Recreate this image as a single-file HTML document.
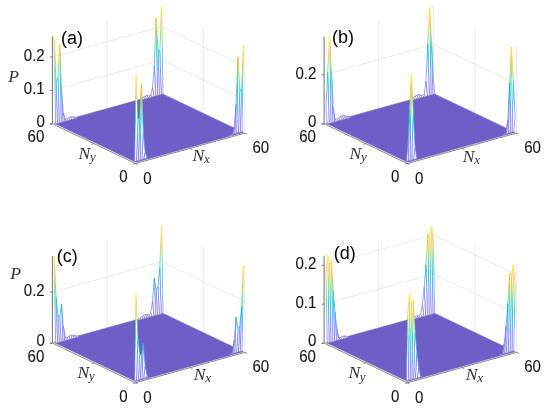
<!DOCTYPE html>
<html><head><meta charset="utf-8"><title>Figure</title>
<style>html,body{margin:0;padding:0;background:#fff}svg{display:block}</style></head>
<body>
<svg width="550" height="411" viewBox="0 0 550 411">
<defs><linearGradient id="pg" gradientUnits="userSpaceOnUse" x1="0" y1="0" x2="0" y2="-88.5">
<stop offset="0.000" stop-color="#8172c7"/>
<stop offset="0.048" stop-color="#7d71db"/>
<stop offset="0.095" stop-color="#7773ec"/>
<stop offset="0.143" stop-color="#7079f7"/>
<stop offset="0.190" stop-color="#667ffd"/>
<stop offset="0.238" stop-color="#5489fe"/>
<stop offset="0.286" stop-color="#4393f8"/>
<stop offset="0.333" stop-color="#369eec"/>
<stop offset="0.381" stop-color="#28a8e4"/>
<stop offset="0.429" stop-color="#14b2d6"/>
<stop offset="0.476" stop-color="#02bac3"/>
<stop offset="0.524" stop-color="#24c1ae"/>
<stop offset="0.571" stop-color="#37c897"/>
<stop offset="0.619" stop-color="#57cc7a"/>
<stop offset="0.667" stop-color="#81cc59"/>
<stop offset="0.714" stop-color="#abc739"/>
<stop offset="0.762" stop-color="#d1bf27"/>
<stop offset="0.810" stop-color="#f0ba36"/>
<stop offset="0.857" stop-color="#fec338"/>
<stop offset="0.905" stop-color="#fad62d"/>
<stop offset="0.952" stop-color="#f5e924"/>
<stop offset="1.000" stop-color="#f9fb15"/>
</linearGradient></defs>
<g transform="translate(0,0)">
<path d="M52.4 123.8L161.6 93.4L244.8 133.1M161.6 93.4V6.2M244.8 133.1V45.9M107 108.6V21.4M203.2 113.2V26M52.4 90.4L161.6 60L244.8 99.7M52.4 57L161.6 26.6L244.8 66.3" fill="none" stroke="#dcdcdc" stroke-width="0.6"/>
<path d="M136 162.3L243.4 132.4L161.6 93.4L54.2 123.3Z" fill="#9086dc"/>
<path d="M136.03 162.33L54.22 123.29M136.03 162.33L243.41 132.44M137.85 161.83L56.04 122.79M134.65 161.67L242.03 131.78M139.67 161.32L57.86 122.28M133.26 161.01L240.64 131.11M141.49 160.81L59.68 121.77M131.87 160.35L239.25 130.45M143.31 160.31L61.5 121.27M130.49 159.69L237.87 129.79M145.13 159.8L63.32 120.76M129.1 159.02L236.48 129.13M146.95 159.29L65.14 120.25M127.71 158.36L235.09 128.47M148.77 158.78L66.96 119.75M126.33 157.7L233.71 127.81M150.59 158.28L68.78 119.24M124.94 157.04L232.32 127.14M152.41 157.77L70.6 118.73M123.55 156.38L230.93 126.48M154.23 157.27L72.42 118.23M122.17 155.72L229.55 125.82M156.05 156.76L74.24 117.72M120.78 155.05L228.16 125.16M157.87 156.25L76.06 117.21M119.39 154.39L226.77 124.5M159.69 155.75L77.88 116.71M118.01 153.73L225.39 123.84M161.51 155.24L79.7 116.2M116.62 153.07L224 123.17M163.33 154.73L81.52 115.69M115.23 152.41L222.61 122.51M165.15 154.22L83.34 115.19M113.85 151.75L221.23 121.85M166.97 153.72L85.16 114.68M112.46 151.08L219.84 121.19M168.79 153.21L86.98 114.17M111.07 150.42L218.45 120.53M170.61 152.71L88.8 113.67M109.69 149.76L217.07 119.87M172.43 152.2L90.62 113.16M108.3 149.1L215.68 119.2M174.25 151.69L92.44 112.65M106.91 148.44L214.29 118.54M176.07 151.19L94.26 112.15M105.53 147.78L212.91 117.88M177.89 150.68L96.08 111.64M104.14 147.11L211.52 117.22M179.71 150.17L97.9 111.13M102.75 146.45L210.13 116.56M181.53 149.66L99.72 110.63M101.37 145.79L208.75 115.9M183.35 149.16L101.54 110.12M99.98 145.13L207.36 115.23M185.17 148.65L103.36 109.61M98.59 144.47L205.97 114.57M186.99 148.15L105.18 109.11M97.21 143.81L204.59 113.91M188.81 147.64L107 108.6M95.82 143.14L203.2 113.25M190.63 147.13L108.82 108.09M94.43 142.48L201.81 112.59M192.45 146.62L110.64 107.59M93.05 141.82L200.43 111.93M194.27 146.12L112.46 107.08M91.66 141.16L199.04 111.26M196.09 145.61L114.28 106.57M90.27 140.5L197.65 110.6M197.91 145.1L116.1 106.07M88.89 139.84L196.27 109.94M199.73 144.6L117.92 105.56M87.5 139.17L194.88 109.28M201.55 144.09L119.74 105.05M86.11 138.51L193.49 108.62M203.37 143.59L121.56 104.55M84.73 137.85L192.11 107.96M205.19 143.08L123.38 104.04M83.34 137.19L190.72 107.29M207.01 142.57L125.2 103.53M81.95 136.53L189.33 106.63M208.83 142.06L127.02 103.03M80.57 135.87L187.95 105.97M210.65 141.56L128.84 102.52M79.18 135.2L186.56 105.31M212.47 141.05L130.66 102.01M77.79 134.54L185.17 104.65M214.29 140.54L132.48 101.51M76.41 133.88L183.79 103.99M216.11 140.04L134.3 101M75.02 133.22L182.4 103.32M217.93 139.53L136.12 100.49M73.63 132.56L181.01 102.66M219.75 139.03L137.94 99.99M72.25 131.9L179.63 102M221.57 138.52L139.76 99.48M70.86 131.23L178.24 101.34M223.39 138.01L141.58 98.97M69.47 130.57L176.85 100.68M225.21 137.5L143.4 98.47M68.09 129.91L175.47 100.02M227.03 137L145.22 97.96M66.7 129.25L174.08 99.35M228.85 136.49L147.04 97.45M65.31 128.59L172.69 98.69M230.67 135.99L148.86 96.95M63.93 127.93L171.31 98.03M232.49 135.48L150.68 96.44M62.54 127.26L169.92 97.37M234.31 134.97L152.5 95.93M61.15 126.6L168.53 96.71M236.13 134.47L154.32 95.43M59.77 125.94L167.15 96.05M237.95 133.96L156.14 94.92M58.38 125.28L165.76 95.38M239.77 133.45L157.96 94.41M56.99 124.62L164.37 94.72M241.59 132.94L159.78 93.91M55.61 123.96L162.99 94.06M243.41 132.44L161.6 93.4M54.22 123.29L161.6 93.4" fill="none" stroke="#3e26a8" stroke-width="0.5" stroke-opacity="0.55"/>
<path d="M52.4 123.8V36.6" fill="none" stroke="#4c4c4c" stroke-width="0.8"/>
<path d="M52.4 123.8L135.6 163.5L244.8 133.1M52.4 123.8h-2.6M52.4 90.4h-2.6M52.4 57h-2.6M135.6 163.5l2.3 1.1M135.6 163.5l-2.5 0.7M190.2 148.3l2.3 1.1M94 143.7l-2.5 0.7M244.8 133.1l2.3 1.1M52.4 123.8l-2.5 0.7" fill="none" stroke="#666" stroke-width="0.75"/>
<g transform="translate(0,93.4)" fill="#fff" stroke="url(#pg)" stroke-width="0.68" stroke-linejoin="round">
<path d="M161.2 1.2L163 0.7L161.6 -86.8L159.8 -41.5Z"/><path d="M159.3 1.7L161.2 1.2L159.8 -41.5L158 -43Z"/><path d="M157.5 2.2L159.3 1.7L158 -43L156.1 -75.5Z"/><path d="M155.7 2.7L157.5 2.2L156.1 -75.5L154.3 -28Z"/><path d="M153.9 3.2L155.7 2.7L154.3 -28L152.5 -5.5Z"/><path d="M152.1 3.7L153.9 3.2L152.5 -5.5L150.7 1.5Z"/><path d="M150.2 4.2L152.1 3.7L150.7 1.5L148.9 2.5Z"/><path d="M148.4 4.7L150.2 4.2L148.9 2.5L147 2.1Z"/><path d="M146.6 5.2L148.4 4.7L147 2.1L145.2 2.6Z"/><path d="M144.8 5.7L146.6 5.2L145.2 2.6L143.4 3.6Z"/><path d="M143 6.2L144.8 5.7L143.4 3.6L141.6 4.8Z"/><path d="M141.1 6.7L143 6.2L141.6 4.8L139.8 6.1Z"/>
</g>
<g transform="translate(0,123.3)" fill="#fff" stroke="url(#pg)" stroke-width="0.68" stroke-linejoin="round">
<path d="M75.6 -4.9L77.4 -5.4L76.1 -6.1L74.2 -6.4Z"/><path d="M73.8 -4.4L75.6 -4.9L74.2 -6.4L72.4 -6.6Z"/><path d="M72 -3.9L73.8 -4.4L72.4 -6.6L70.6 -6.6Z"/><path d="M70.2 -3.4L72 -3.9L70.6 -6.6L68.8 -6.1Z"/><path d="M68.3 -2.9L70.2 -3.4L68.8 -6.1L67 -4.5Z"/><path d="M66.5 -2.4L68.3 -2.9L67 -4.5L65.1 -4.5Z"/><path d="M64.7 -1.9L66.5 -2.4L65.1 -4.5L63.3 -10.5Z"/><path d="M62.9 -1.4L64.7 -1.9L63.3 -10.5L61.5 -32Z"/><path d="M61.1 -0.9L62.9 -1.4L61.5 -32L59.7 -78.5Z"/><path d="M59.2 -0.4L61.1 -0.9L59.7 -78.5L57.9 -45Z"/><path d="M57.4 0.2L59.2 -0.4L57.9 -45L56 -42.5Z"/><path d="M55.6 0.7L57.4 0.2L56 -42.5L54.2 -86.8Z"/>
</g>
<g transform="translate(0,132.4)" fill="#fff" stroke="url(#pg)" stroke-width="0.68" stroke-linejoin="round">
<path d="M241.6 -41.5L243.4 -86.8L242 -0.7L240.2 -0.2Z"/><path d="M239.8 -43L241.6 -41.5L240.2 -0.2L238.4 0.4Z"/><path d="M238 -75.5L239.8 -43L238.4 0.4L236.6 0.9Z"/><path d="M236.1 -28L238 -75.5L236.6 0.9L234.7 1.4Z"/><path d="M234.3 -5.5L236.1 -28L234.7 1.4L232.9 1.9Z"/><path d="M232.5 1.5L234.3 -5.5L232.9 1.9L231.1 2.4Z"/><path d="M230.7 3.5L232.5 1.5L231.1 2.4L229.3 2.9Z"/>
</g>
<g transform="translate(0,162.3)" fill="#fff" stroke="url(#pg)" stroke-width="0.68" stroke-linejoin="round">
<path d="M147 -4.5L148.8 -3.5L147.4 -4.2L145.6 -3.7Z"/><path d="M145.1 -10.5L147 -4.5L145.6 -3.7L143.7 -3.2Z"/><path d="M143.3 -32L145.1 -10.5L143.7 -3.2L141.9 -2.7Z"/><path d="M141.5 -78.5L143.3 -32L141.9 -2.7L140.1 -2.2Z"/><path d="M139.7 -45L141.5 -78.5L140.1 -2.2L138.3 -1.7Z"/><path d="M137.9 -42.5L139.7 -45L138.3 -1.7L136.5 -1.2Z"/><path d="M136 -86.8L137.9 -42.5L136.5 -1.2L134.6 -0.7Z"/>
</g>
<g font-family="Liberation Sans, Arial, sans-serif" font-size="17.2" fill="#151515" stroke="#151515" stroke-width="0.1">
<text transform="translate(44.8 126.8) scale(0.875 1)" text-anchor="end">0</text>
<text transform="translate(44.7 94.4) scale(0.875 1)" text-anchor="end">0.1</text>
<text transform="translate(44.7 61) scale(0.875 1)" text-anchor="end">0.2</text>
<text transform="translate(44.3 142.4) scale(0.875 1)" text-anchor="end">60</text>
<text transform="translate(123.4 182.4) scale(0.875 1)" text-anchor="middle">0</text>
<text transform="translate(147.4 183.8) scale(0.875 1)" text-anchor="middle">0</text>
<text transform="translate(260.8 152.7) scale(0.875 1)" text-anchor="middle">60</text>
<text x="72.1" y="43.8" text-anchor="middle" font-size="18" fill="#000" stroke="none">(a)</text>
</g>
<g font-family="Liberation Serif, Times New Roman, serif" font-style="italic" font-size="17.6" fill="#333">
<text x="78.5" y="158.6">N<tspan dy="2.3" dx="-0.3" font-size="13">y</tspan></text>
<text x="192.6" y="160.9">N<tspan dy="2.3" dx="-0.3" font-size="13">x</tspan></text>
<text x="8.2" y="81.9">P</text>
</g>
</g>
<g transform="translate(271.7,0)">
<path d="M52.4 123.8L161.6 93.4L244.8 133.1M161.6 93.4V6.2M244.8 133.1V45.9M107 108.6V21.4M203.2 113.2V26M52.4 74.8L161.6 44.4L244.8 84.1" fill="none" stroke="#dcdcdc" stroke-width="0.6"/>
<path d="M136 162.3L243.4 132.4L161.6 93.4L54.2 123.3Z" fill="#9086dc"/>
<path d="M136.03 162.33L54.22 123.29M136.03 162.33L243.41 132.44M137.85 161.83L56.04 122.79M134.65 161.67L242.03 131.78M139.67 161.32L57.86 122.28M133.26 161.01L240.64 131.11M141.49 160.81L59.68 121.77M131.87 160.35L239.25 130.45M143.31 160.31L61.5 121.27M130.49 159.69L237.87 129.79M145.13 159.8L63.32 120.76M129.1 159.02L236.48 129.13M146.95 159.29L65.14 120.25M127.71 158.36L235.09 128.47M148.77 158.78L66.96 119.75M126.33 157.7L233.71 127.81M150.59 158.28L68.78 119.24M124.94 157.04L232.32 127.14M152.41 157.77L70.6 118.73M123.55 156.38L230.93 126.48M154.23 157.27L72.42 118.23M122.17 155.72L229.55 125.82M156.05 156.76L74.24 117.72M120.78 155.05L228.16 125.16M157.87 156.25L76.06 117.21M119.39 154.39L226.77 124.5M159.69 155.75L77.88 116.71M118.01 153.73L225.39 123.84M161.51 155.24L79.7 116.2M116.62 153.07L224 123.17M163.33 154.73L81.52 115.69M115.23 152.41L222.61 122.51M165.15 154.22L83.34 115.19M113.85 151.75L221.23 121.85M166.97 153.72L85.16 114.68M112.46 151.08L219.84 121.19M168.79 153.21L86.98 114.17M111.07 150.42L218.45 120.53M170.61 152.71L88.8 113.67M109.69 149.76L217.07 119.87M172.43 152.2L90.62 113.16M108.3 149.1L215.68 119.2M174.25 151.69L92.44 112.65M106.91 148.44L214.29 118.54M176.07 151.19L94.26 112.15M105.53 147.78L212.91 117.88M177.89 150.68L96.08 111.64M104.14 147.11L211.52 117.22M179.71 150.17L97.9 111.13M102.75 146.45L210.13 116.56M181.53 149.66L99.72 110.63M101.37 145.79L208.75 115.9M183.35 149.16L101.54 110.12M99.98 145.13L207.36 115.23M185.17 148.65L103.36 109.61M98.59 144.47L205.97 114.57M186.99 148.15L105.18 109.11M97.21 143.81L204.59 113.91M188.81 147.64L107 108.6M95.82 143.14L203.2 113.25M190.63 147.13L108.82 108.09M94.43 142.48L201.81 112.59M192.45 146.62L110.64 107.59M93.05 141.82L200.43 111.93M194.27 146.12L112.46 107.08M91.66 141.16L199.04 111.26M196.09 145.61L114.28 106.57M90.27 140.5L197.65 110.6M197.91 145.1L116.1 106.07M88.89 139.84L196.27 109.94M199.73 144.6L117.92 105.56M87.5 139.17L194.88 109.28M201.55 144.09L119.74 105.05M86.11 138.51L193.49 108.62M203.37 143.59L121.56 104.55M84.73 137.85L192.11 107.96M205.19 143.08L123.38 104.04M83.34 137.19L190.72 107.29M207.01 142.57L125.2 103.53M81.95 136.53L189.33 106.63M208.83 142.06L127.02 103.03M80.57 135.87L187.95 105.97M210.65 141.56L128.84 102.52M79.18 135.2L186.56 105.31M212.47 141.05L130.66 102.01M77.79 134.54L185.17 104.65M214.29 140.54L132.48 101.51M76.41 133.88L183.79 103.99M216.11 140.04L134.3 101M75.02 133.22L182.4 103.32M217.93 139.53L136.12 100.49M73.63 132.56L181.01 102.66M219.75 139.03L137.94 99.99M72.25 131.9L179.63 102M221.57 138.52L139.76 99.48M70.86 131.23L178.24 101.34M223.39 138.01L141.58 98.97M69.47 130.57L176.85 100.68M225.21 137.5L143.4 98.47M68.09 129.91L175.47 100.02M227.03 137L145.22 97.96M66.7 129.25L174.08 99.35M228.85 136.49L147.04 97.45M65.31 128.59L172.69 98.69M230.67 135.99L148.86 96.95M63.93 127.93L171.31 98.03M232.49 135.48L150.68 96.44M62.54 127.26L169.92 97.37M234.31 134.97L152.5 95.93M61.15 126.6L168.53 96.71M236.13 134.47L154.32 95.43M59.77 125.94L167.15 96.05M237.95 133.96L156.14 94.92M58.38 125.28L165.76 95.38M239.77 133.45L157.96 94.41M56.99 124.62L164.37 94.72M241.59 132.94L159.78 93.91M55.61 123.96L162.99 94.06M243.41 132.44L161.6 93.4M54.22 123.29L161.6 93.4" fill="none" stroke="#3e26a8" stroke-width="0.5" stroke-opacity="0.55"/>
<path d="M52.4 123.8V36.6" fill="none" stroke="#4c4c4c" stroke-width="0.8"/>
<path d="M52.4 123.8L135.6 163.5L244.8 133.1M52.4 123.8h-2.6M52.4 74.8h-2.6M135.6 163.5l2.3 1.1M135.6 163.5l-2.5 0.7M190.2 148.3l2.3 1.1M94 143.7l-2.5 0.7M244.8 133.1l2.3 1.1M52.4 123.8l-2.5 0.7" fill="none" stroke="#666" stroke-width="0.75"/>
<g transform="translate(0,93.4)" fill="#fff" stroke="url(#pg)" stroke-width="0.68" stroke-linejoin="round">
<path d="M161.2 1.2L163 0.7L161.6 -15L159.8 -50.5Z"/><path d="M159.3 1.7L161.2 1.2L159.8 -50.5L158 -85.7Z"/><path d="M157.5 2.2L159.3 1.7L158 -85.7L156.1 -49.5Z"/><path d="M155.7 2.7L157.5 2.2L156.1 -49.5L154.3 -12Z"/><path d="M153.9 3.2L155.7 2.7L154.3 -12L152.5 0.5Z"/><path d="M152.1 3.7L153.9 3.2L152.5 0.5L150.7 2Z"/><path d="M150.2 4.2L152.1 3.7L150.7 2L148.9 1.5Z"/><path d="M148.4 4.7L150.2 4.2L148.9 1.5L147 1.1Z"/><path d="M146.6 5.2L148.4 4.7L147 1.1L145.2 1.6Z"/><path d="M144.8 5.7L146.6 5.2L145.2 1.6L143.4 2.6Z"/><path d="M143 6.2L144.8 5.7L143.4 2.6L141.6 4.1Z"/><path d="M141.1 6.7L143 6.2L141.6 4.1L139.8 5.3Z"/><path d="M139.3 7.2L141.1 6.7L139.8 5.3L137.9 6.6Z"/>
</g>
<g transform="translate(0,123.3)" fill="#fff" stroke="url(#pg)" stroke-width="0.68" stroke-linejoin="round">
<path d="M77.4 -5.4L79.3 -5.9L77.9 -6.6L76.1 -6.9Z"/><path d="M75.6 -4.9L77.4 -5.4L76.1 -6.9L74.2 -7.1Z"/><path d="M73.8 -4.4L75.6 -4.9L74.2 -7.1L72.4 -7.6Z"/><path d="M72 -3.9L73.8 -4.4L72.4 -7.6L70.6 -7.6Z"/><path d="M70.2 -3.4L72 -3.9L70.6 -7.6L68.8 -7.1Z"/><path d="M68.3 -2.9L70.2 -3.4L68.8 -7.1L67 -5.5Z"/><path d="M66.5 -2.4L68.3 -2.9L67 -5.5L65.1 -4Z"/><path d="M64.7 -1.9L66.5 -2.4L65.1 -4L63.3 -4.5Z"/><path d="M62.9 -1.4L64.7 -1.9L63.3 -4.5L61.5 -16Z"/><path d="M61.1 -0.9L62.9 -1.4L61.5 -16L59.7 -52.5Z"/><path d="M59.2 -0.4L61.1 -0.9L59.7 -52.5L57.9 -87.7Z"/><path d="M57.4 0.2L59.2 -0.4L57.9 -87.7L56 -51.5Z"/><path d="M55.6 0.7L57.4 0.2L56 -51.5L54.2 -15Z"/>
</g>
<g transform="translate(0,132.4)" fill="#fff" stroke="url(#pg)" stroke-width="0.68" stroke-linejoin="round">
<path d="M241.6 -50.5L243.4 -15L242 -0.7L240.2 -0.2Z"/><path d="M239.8 -85.7L241.6 -50.5L240.2 -0.2L238.4 0.4Z"/><path d="M238 -49.5L239.8 -85.7L238.4 0.4L236.6 0.9Z"/><path d="M236.1 -12L238 -49.5L236.6 0.9L234.7 1.4Z"/><path d="M234.3 0.5L236.1 -12L234.7 1.4L232.9 1.9Z"/><path d="M232.5 3L234.3 0.5L232.9 1.9L231.1 2.4Z"/>
</g>
<g transform="translate(0,162.3)" fill="#fff" stroke="url(#pg)" stroke-width="0.68" stroke-linejoin="round">
<path d="M145.1 -4.5L147 -3L145.6 -3.7L143.7 -3.2Z"/><path d="M143.3 -16L145.1 -4.5L143.7 -3.2L141.9 -2.7Z"/><path d="M141.5 -52.5L143.3 -16L141.9 -2.7L140.1 -2.2Z"/><path d="M139.7 -87.7L141.5 -52.5L140.1 -2.2L138.3 -1.7Z"/><path d="M137.9 -51.5L139.7 -87.7L138.3 -1.7L136.5 -1.2Z"/><path d="M136 -15L137.9 -51.5L136.5 -1.2L134.6 -0.7Z"/>
</g>
<g font-family="Liberation Sans, Arial, sans-serif" font-size="17.2" fill="#151515" stroke="#151515" stroke-width="0.1">
<text transform="translate(44.8 126.8) scale(0.875 1)" text-anchor="end">0</text>
<text transform="translate(44.7 78.8) scale(0.875 1)" text-anchor="end">0.2</text>
<text transform="translate(44.3 142.4) scale(0.875 1)" text-anchor="end">60</text>
<text transform="translate(123.4 182.4) scale(0.875 1)" text-anchor="middle">0</text>
<text transform="translate(147.4 183.8) scale(0.875 1)" text-anchor="middle">0</text>
<text transform="translate(260.8 152.7) scale(0.875 1)" text-anchor="middle">60</text>
<text x="71.4" y="43.3" text-anchor="middle" font-size="18" fill="#000" stroke="none">(b)</text>
</g>
<g font-family="Liberation Serif, Times New Roman, serif" font-style="italic" font-size="17.6" fill="#333">
<text x="77.8" y="158.6">N<tspan dy="2.3" dx="-0.3" font-size="13">y</tspan></text>
<text x="191" y="161.5">N<tspan dy="2.3" dx="-0.3" font-size="13">x</tspan></text>
</g>
</g>
<g transform="translate(0,219.3)">
<path d="M52.4 123.8L161.6 93.4L244.8 133.1M161.6 93.4V6.2M244.8 133.1V45.9M107 108.6V21.4M203.2 113.2V26M52.4 72.8L161.6 42.4L244.8 82.1" fill="none" stroke="#dcdcdc" stroke-width="0.6"/>
<path d="M136 162.3L243.4 132.4L161.6 93.4L54.2 123.3Z" fill="#9086dc"/>
<path d="M136.03 162.33L54.22 123.29M136.03 162.33L243.41 132.44M137.85 161.83L56.04 122.79M134.65 161.67L242.03 131.78M139.67 161.32L57.86 122.28M133.26 161.01L240.64 131.11M141.49 160.81L59.68 121.77M131.87 160.35L239.25 130.45M143.31 160.31L61.5 121.27M130.49 159.69L237.87 129.79M145.13 159.8L63.32 120.76M129.1 159.02L236.48 129.13M146.95 159.29L65.14 120.25M127.71 158.36L235.09 128.47M148.77 158.78L66.96 119.75M126.33 157.7L233.71 127.81M150.59 158.28L68.78 119.24M124.94 157.04L232.32 127.14M152.41 157.77L70.6 118.73M123.55 156.38L230.93 126.48M154.23 157.27L72.42 118.23M122.17 155.72L229.55 125.82M156.05 156.76L74.24 117.72M120.78 155.05L228.16 125.16M157.87 156.25L76.06 117.21M119.39 154.39L226.77 124.5M159.69 155.75L77.88 116.71M118.01 153.73L225.39 123.84M161.51 155.24L79.7 116.2M116.62 153.07L224 123.17M163.33 154.73L81.52 115.69M115.23 152.41L222.61 122.51M165.15 154.22L83.34 115.19M113.85 151.75L221.23 121.85M166.97 153.72L85.16 114.68M112.46 151.08L219.84 121.19M168.79 153.21L86.98 114.17M111.07 150.42L218.45 120.53M170.61 152.71L88.8 113.67M109.69 149.76L217.07 119.87M172.43 152.2L90.62 113.16M108.3 149.1L215.68 119.2M174.25 151.69L92.44 112.65M106.91 148.44L214.29 118.54M176.07 151.19L94.26 112.15M105.53 147.78L212.91 117.88M177.89 150.68L96.08 111.64M104.14 147.11L211.52 117.22M179.71 150.17L97.9 111.13M102.75 146.45L210.13 116.56M181.53 149.66L99.72 110.63M101.37 145.79L208.75 115.9M183.35 149.16L101.54 110.12M99.98 145.13L207.36 115.23M185.17 148.65L103.36 109.61M98.59 144.47L205.97 114.57M186.99 148.15L105.18 109.11M97.21 143.81L204.59 113.91M188.81 147.64L107 108.6M95.82 143.14L203.2 113.25M190.63 147.13L108.82 108.09M94.43 142.48L201.81 112.59M192.45 146.62L110.64 107.59M93.05 141.82L200.43 111.93M194.27 146.12L112.46 107.08M91.66 141.16L199.04 111.26M196.09 145.61L114.28 106.57M90.27 140.5L197.65 110.6M197.91 145.1L116.1 106.07M88.89 139.84L196.27 109.94M199.73 144.6L117.92 105.56M87.5 139.17L194.88 109.28M201.55 144.09L119.74 105.05M86.11 138.51L193.49 108.62M203.37 143.59L121.56 104.55M84.73 137.85L192.11 107.96M205.19 143.08L123.38 104.04M83.34 137.19L190.72 107.29M207.01 142.57L125.2 103.53M81.95 136.53L189.33 106.63M208.83 142.06L127.02 103.03M80.57 135.87L187.95 105.97M210.65 141.56L128.84 102.52M79.18 135.2L186.56 105.31M212.47 141.05L130.66 102.01M77.79 134.54L185.17 104.65M214.29 140.54L132.48 101.51M76.41 133.88L183.79 103.99M216.11 140.04L134.3 101M75.02 133.22L182.4 103.32M217.93 139.53L136.12 100.49M73.63 132.56L181.01 102.66M219.75 139.03L137.94 99.99M72.25 131.9L179.63 102M221.57 138.52L139.76 99.48M70.86 131.23L178.24 101.34M223.39 138.01L141.58 98.97M69.47 130.57L176.85 100.68M225.21 137.5L143.4 98.47M68.09 129.91L175.47 100.02M227.03 137L145.22 97.96M66.7 129.25L174.08 99.35M228.85 136.49L147.04 97.45M65.31 128.59L172.69 98.69M230.67 135.99L148.86 96.95M63.93 127.93L171.31 98.03M232.49 135.48L150.68 96.44M62.54 127.26L169.92 97.37M234.31 134.97L152.5 95.93M61.15 126.6L168.53 96.71M236.13 134.47L154.32 95.43M59.77 125.94L167.15 96.05M237.95 133.96L156.14 94.92M58.38 125.28L165.76 95.38M239.77 133.45L157.96 94.41M56.99 124.62L164.37 94.72M241.59 132.94L159.78 93.91M55.61 123.96L162.99 94.06M243.41 132.44L161.6 93.4M54.22 123.29L161.6 93.4" fill="none" stroke="#3e26a8" stroke-width="0.5" stroke-opacity="0.55"/>
<path d="M52.4 123.8V36.6" fill="none" stroke="#4c4c4c" stroke-width="0.8"/>
<path d="M52.4 123.8L135.6 163.5L244.8 133.1M52.4 123.8h-2.6M52.4 72.8h-2.6M135.6 163.5l2.3 1.1M135.6 163.5l-2.5 0.7M190.2 148.3l2.3 1.1M94 143.7l-2.5 0.7M244.8 133.1l2.3 1.1M52.4 123.8l-2.5 0.7" fill="none" stroke="#666" stroke-width="0.75"/>
<g transform="translate(0,93.4)" fill="#fff" stroke="url(#pg)" stroke-width="0.68" stroke-linejoin="round">
<path d="M161.2 1.2L163 0.7L161.6 -86.6L159.8 -44.5Z"/><path d="M159.3 1.7L161.2 1.2L159.8 -44.5L158 -26Z"/><path d="M157.5 2.2L159.3 1.7L158 -26L156.1 -22.5Z"/><path d="M155.7 2.7L157.5 2.2L156.1 -22.5L154.3 -34.5Z"/><path d="M153.9 3.2L155.7 2.7L154.3 -34.5L152.5 -11.5Z"/><path d="M152.1 3.7L153.9 3.2L152.5 -11.5L150.7 0Z"/><path d="M150.2 4.2L152.1 3.7L150.7 0L148.9 2.5Z"/><path d="M148.4 4.7L150.2 4.2L148.9 2.5L147 1.9Z"/><path d="M146.6 5.2L148.4 4.7L147 1.9L145.2 1.8Z"/><path d="M144.8 5.7L146.6 5.2L145.2 1.8L143.4 2.7Z"/><path d="M143 6.2L144.8 5.7L143.4 2.7L141.6 4Z"/><path d="M141.1 6.7L143 6.2L141.6 4L139.8 5.3Z"/><path d="M139.3 7.2L141.1 6.7L139.8 5.3L137.9 6.6Z"/>
</g>
<g transform="translate(0,123.3)" fill="#fff" stroke="url(#pg)" stroke-width="0.68" stroke-linejoin="round">
<path d="M77.4 -5.4L79.3 -5.9L77.9 -6.6L76.1 -6.9Z"/><path d="M75.6 -4.9L77.4 -5.4L76.1 -6.9L74.2 -7.2Z"/><path d="M73.8 -4.4L75.6 -4.9L74.2 -7.2L72.4 -7.5Z"/><path d="M72 -3.9L73.8 -4.4L72.4 -7.5L70.6 -7.4Z"/><path d="M70.2 -3.4L72 -3.9L70.6 -7.4L68.8 -6.3Z"/><path d="M68.3 -2.9L70.2 -3.4L68.8 -6.3L67 -4.5Z"/><path d="M66.5 -2.4L68.3 -2.9L67 -4.5L65.1 -6Z"/><path d="M64.7 -1.9L66.5 -2.4L65.1 -6L63.3 -16.5Z"/><path d="M62.9 -1.4L64.7 -1.9L63.3 -16.5L61.5 -38.5Z"/><path d="M61.1 -0.9L62.9 -1.4L61.5 -38.5L59.7 -25.5Z"/><path d="M59.2 -0.4L61.1 -0.9L59.7 -25.5L57.9 -28Z"/><path d="M57.4 0.2L59.2 -0.4L57.9 -28L56 -45.5Z"/><path d="M55.6 0.7L57.4 0.2L56 -45.5L54.2 -86.6Z"/>
</g>
<g transform="translate(0,132.4)" fill="#fff" stroke="url(#pg)" stroke-width="0.68" stroke-linejoin="round">
<path d="M241.6 -44.5L243.4 -86.6L242 -0.7L240.2 -0.2Z"/><path d="M239.8 -26L241.6 -44.5L240.2 -0.2L238.4 0.4Z"/><path d="M238 -22.5L239.8 -26L238.4 0.4L236.6 0.9Z"/><path d="M236.1 -34.5L238 -22.5L236.6 0.9L234.7 1.4Z"/><path d="M234.3 -11.5L236.1 -34.5L234.7 1.4L232.9 1.9Z"/><path d="M232.5 0L234.3 -11.5L232.9 1.9L231.1 2.4Z"/><path d="M230.7 3.5L232.5 0L231.1 2.4L229.3 2.9Z"/>
</g>
<g transform="translate(0,162.3)" fill="#fff" stroke="url(#pg)" stroke-width="0.68" stroke-linejoin="round">
<path d="M147 -6L148.8 -3.5L147.4 -4.2L145.6 -3.7Z"/><path d="M145.1 -16.5L147 -6L145.6 -3.7L143.7 -3.2Z"/><path d="M143.3 -38.5L145.1 -16.5L143.7 -3.2L141.9 -2.7Z"/><path d="M141.5 -25.5L143.3 -38.5L141.9 -2.7L140.1 -2.2Z"/><path d="M139.7 -28L141.5 -25.5L140.1 -2.2L138.3 -1.7Z"/><path d="M137.9 -45.5L139.7 -28L138.3 -1.7L136.5 -1.2Z"/><path d="M136 -86.6L137.9 -45.5L136.5 -1.2L134.6 -0.7Z"/>
</g>
<g font-family="Liberation Sans, Arial, sans-serif" font-size="17.2" fill="#151515" stroke="#151515" stroke-width="0.1">
<text transform="translate(44.8 126.8) scale(0.875 1)" text-anchor="end">0</text>
<text transform="translate(44.7 76.8) scale(0.875 1)" text-anchor="end">0.2</text>
<text transform="translate(44.3 142.4) scale(0.875 1)" text-anchor="end">60</text>
<text transform="translate(123.4 182.4) scale(0.875 1)" text-anchor="middle">0</text>
<text transform="translate(147.4 183.8) scale(0.875 1)" text-anchor="middle">0</text>
<text transform="translate(260.8 152.7) scale(0.875 1)" text-anchor="middle">60</text>
<text x="67.2" y="43.1" text-anchor="middle" font-size="18" fill="#000" stroke="none">(c)</text>
</g>
<g font-family="Liberation Serif, Times New Roman, serif" font-style="italic" font-size="17.6" fill="#333">
<text x="77.5" y="158.8">N<tspan dy="2.3" dx="-0.3" font-size="13">y</tspan></text>
<text x="193.7" y="160.6">N<tspan dy="2.3" dx="-0.3" font-size="13">x</tspan></text>
<text x="10.3" y="60">P</text>
</g>
</g>
<g transform="translate(271.7,219.3)">
<path d="M52.4 123.8L161.6 93.4L244.8 133.1M161.6 93.4V6.2M244.8 133.1V45.9M107 108.6V21.4M203.2 113.2V26M52.4 84.9L161.6 54.5L244.8 94.2M52.4 46L161.6 15.6L244.8 55.3" fill="none" stroke="#dcdcdc" stroke-width="0.6"/>
<path d="M136 162.3L243.4 132.4L161.6 93.4L54.2 123.3Z" fill="#9086dc"/>
<path d="M136.03 162.33L54.22 123.29M136.03 162.33L243.41 132.44M137.85 161.83L56.04 122.79M134.65 161.67L242.03 131.78M139.67 161.32L57.86 122.28M133.26 161.01L240.64 131.11M141.49 160.81L59.68 121.77M131.87 160.35L239.25 130.45M143.31 160.31L61.5 121.27M130.49 159.69L237.87 129.79M145.13 159.8L63.32 120.76M129.1 159.02L236.48 129.13M146.95 159.29L65.14 120.25M127.71 158.36L235.09 128.47M148.77 158.78L66.96 119.75M126.33 157.7L233.71 127.81M150.59 158.28L68.78 119.24M124.94 157.04L232.32 127.14M152.41 157.77L70.6 118.73M123.55 156.38L230.93 126.48M154.23 157.27L72.42 118.23M122.17 155.72L229.55 125.82M156.05 156.76L74.24 117.72M120.78 155.05L228.16 125.16M157.87 156.25L76.06 117.21M119.39 154.39L226.77 124.5M159.69 155.75L77.88 116.71M118.01 153.73L225.39 123.84M161.51 155.24L79.7 116.2M116.62 153.07L224 123.17M163.33 154.73L81.52 115.69M115.23 152.41L222.61 122.51M165.15 154.22L83.34 115.19M113.85 151.75L221.23 121.85M166.97 153.72L85.16 114.68M112.46 151.08L219.84 121.19M168.79 153.21L86.98 114.17M111.07 150.42L218.45 120.53M170.61 152.71L88.8 113.67M109.69 149.76L217.07 119.87M172.43 152.2L90.62 113.16M108.3 149.1L215.68 119.2M174.25 151.69L92.44 112.65M106.91 148.44L214.29 118.54M176.07 151.19L94.26 112.15M105.53 147.78L212.91 117.88M177.89 150.68L96.08 111.64M104.14 147.11L211.52 117.22M179.71 150.17L97.9 111.13M102.75 146.45L210.13 116.56M181.53 149.66L99.72 110.63M101.37 145.79L208.75 115.9M183.35 149.16L101.54 110.12M99.98 145.13L207.36 115.23M185.17 148.65L103.36 109.61M98.59 144.47L205.97 114.57M186.99 148.15L105.18 109.11M97.21 143.81L204.59 113.91M188.81 147.64L107 108.6M95.82 143.14L203.2 113.25M190.63 147.13L108.82 108.09M94.43 142.48L201.81 112.59M192.45 146.62L110.64 107.59M93.05 141.82L200.43 111.93M194.27 146.12L112.46 107.08M91.66 141.16L199.04 111.26M196.09 145.61L114.28 106.57M90.27 140.5L197.65 110.6M197.91 145.1L116.1 106.07M88.89 139.84L196.27 109.94M199.73 144.6L117.92 105.56M87.5 139.17L194.88 109.28M201.55 144.09L119.74 105.05M86.11 138.51L193.49 108.62M203.37 143.59L121.56 104.55M84.73 137.85L192.11 107.96M205.19 143.08L123.38 104.04M83.34 137.19L190.72 107.29M207.01 142.57L125.2 103.53M81.95 136.53L189.33 106.63M208.83 142.06L127.02 103.03M80.57 135.87L187.95 105.97M210.65 141.56L128.84 102.52M79.18 135.2L186.56 105.31M212.47 141.05L130.66 102.01M77.79 134.54L185.17 104.65M214.29 140.54L132.48 101.51M76.41 133.88L183.79 103.99M216.11 140.04L134.3 101M75.02 133.22L182.4 103.32M217.93 139.53L136.12 100.49M73.63 132.56L181.01 102.66M219.75 139.03L137.94 99.99M72.25 131.9L179.63 102M221.57 138.52L139.76 99.48M70.86 131.23L178.24 101.34M223.39 138.01L141.58 98.97M69.47 130.57L176.85 100.68M225.21 137.5L143.4 98.47M68.09 129.91L175.47 100.02M227.03 137L145.22 97.96M66.7 129.25L174.08 99.35M228.85 136.49L147.04 97.45M65.31 128.59L172.69 98.69M230.67 135.99L148.86 96.95M63.93 127.93L171.31 98.03M232.49 135.48L150.68 96.44M62.54 127.26L169.92 97.37M234.31 134.97L152.5 95.93M61.15 126.6L168.53 96.71M236.13 134.47L154.32 95.43M59.77 125.94L167.15 96.05M237.95 133.96L156.14 94.92M58.38 125.28L165.76 95.38M239.77 133.45L157.96 94.41M56.99 124.62L164.37 94.72M241.59 132.94L159.78 93.91M55.61 123.96L162.99 94.06M243.41 132.44L161.6 93.4M54.22 123.29L161.6 93.4" fill="none" stroke="#3e26a8" stroke-width="0.5" stroke-opacity="0.55"/>
<path d="M52.4 123.8V36.6" fill="none" stroke="#4c4c4c" stroke-width="0.8"/>
<path d="M52.4 123.8L135.6 163.5L244.8 133.1M52.4 123.8h-2.6M52.4 84.9h-2.6M52.4 46h-2.6M135.6 163.5l2.3 1.1M135.6 163.5l-2.5 0.7M190.2 148.3l2.3 1.1M94 143.7l-2.5 0.7M244.8 133.1l2.3 1.1M52.4 123.8l-2.5 0.7" fill="none" stroke="#666" stroke-width="0.75"/>
<g transform="translate(0,93.4)" fill="#fff" stroke="url(#pg)" stroke-width="0.68" stroke-linejoin="round">
<path d="M161.2 1.2L163 0.7L161.6 -68L159.8 -86.5Z"/><path d="M159.3 1.7L161.2 1.2L159.8 -86.5L158 -76Z"/><path d="M157.5 2.2L159.3 1.7L158 -76L156.1 -78.5Z"/><path d="M155.7 2.7L157.5 2.2L156.1 -78.5L154.3 -48Z"/><path d="M153.9 3.2L155.7 2.7L154.3 -48L152.5 -25.5Z"/><path d="M152.1 3.7L153.9 3.2L152.5 -25.5L150.7 -8Z"/><path d="M150.2 4.2L152.1 3.7L150.7 -8L148.9 1.5Z"/><path d="M148.4 4.7L150.2 4.2L148.9 1.5L147 3.1Z"/><path d="M146.6 5.2L148.4 4.7L147 3.1L145.2 3.1Z"/><path d="M144.8 5.7L146.6 5.2L145.2 3.1L143.4 3.6Z"/><path d="M143 6.2L144.8 5.7L143.4 3.6L141.6 4.6Z"/><path d="M141.1 6.7L143 6.2L141.6 4.6L139.8 6.1Z"/>
</g>
<g transform="translate(0,123.3)" fill="#fff" stroke="url(#pg)" stroke-width="0.68" stroke-linejoin="round">
<path d="M75.6 -4.9L77.4 -5.4L76.1 -6.1L74.2 -6.6Z"/><path d="M73.8 -4.4L75.6 -4.9L74.2 -6.6L72.4 -6.6Z"/><path d="M72 -3.9L73.8 -4.4L72.4 -6.6L70.6 -6.1Z"/><path d="M70.2 -3.4L72 -3.9L70.6 -6.1L68.8 -5.1Z"/><path d="M68.3 -2.9L70.2 -3.4L68.8 -5.1L67 -5.5Z"/><path d="M66.5 -2.4L68.3 -2.9L67 -5.5L65.1 -14Z"/><path d="M64.7 -1.9L66.5 -2.4L65.1 -14L63.3 -30.5Z"/><path d="M62.9 -1.4L64.7 -1.9L63.3 -30.5L61.5 -52Z"/><path d="M61.1 -0.9L62.9 -1.4L61.5 -52L59.7 -81.5Z"/><path d="M59.2 -0.4L61.1 -0.9L59.7 -81.5L57.9 -78Z"/><path d="M57.4 0.2L59.2 -0.4L57.9 -78L56 -87.5Z"/><path d="M55.6 0.7L57.4 0.2L56 -87.5L54.2 -68Z"/>
</g>
<g transform="translate(0,132.4)" fill="#fff" stroke="url(#pg)" stroke-width="0.68" stroke-linejoin="round">
<path d="M241.6 -86.5L243.4 -68L242 -0.7L240.2 -0.2Z"/><path d="M239.8 -76L241.6 -86.5L240.2 -0.2L238.4 0.4Z"/><path d="M238 -78.5L239.8 -76L238.4 0.4L236.6 0.9Z"/><path d="M236.1 -48L238 -78.5L236.6 0.9L234.7 1.4Z"/><path d="M234.3 -25.5L236.1 -48L234.7 1.4L232.9 1.9Z"/><path d="M232.5 -8L234.3 -25.5L232.9 1.9L231.1 2.4Z"/><path d="M230.7 1.5L232.5 -8L231.1 2.4L229.3 2.9Z"/><path d="M228.9 4.1L230.7 1.5L229.3 2.9L227.5 3.4Z"/>
</g>
<g transform="translate(0,162.3)" fill="#fff" stroke="url(#pg)" stroke-width="0.68" stroke-linejoin="round">
<path d="M148.8 -5.5L150.6 -4.1L149.2 -4.7L147.4 -4.2Z"/><path d="M147 -14L148.8 -5.5L147.4 -4.2L145.6 -3.7Z"/><path d="M145.1 -30.5L147 -14L145.6 -3.7L143.7 -3.2Z"/><path d="M143.3 -52L145.1 -30.5L143.7 -3.2L141.9 -2.7Z"/><path d="M141.5 -81.5L143.3 -52L141.9 -2.7L140.1 -2.2Z"/><path d="M139.7 -78L141.5 -81.5L140.1 -2.2L138.3 -1.7Z"/><path d="M137.9 -87.5L139.7 -78L138.3 -1.7L136.5 -1.2Z"/><path d="M136 -68L137.9 -87.5L136.5 -1.2L134.6 -0.7Z"/>
</g>
<g font-family="Liberation Sans, Arial, sans-serif" font-size="17.2" fill="#151515" stroke="#151515" stroke-width="0.1">
<text transform="translate(44.8 126.8) scale(0.875 1)" text-anchor="end">0</text>
<text transform="translate(44.7 88.9) scale(0.875 1)" text-anchor="end">0.1</text>
<text transform="translate(44.7 50) scale(0.875 1)" text-anchor="end">0.2</text>
<text transform="translate(44.3 142.4) scale(0.875 1)" text-anchor="end">60</text>
<text transform="translate(123.4 182.4) scale(0.875 1)" text-anchor="middle">0</text>
<text transform="translate(147.4 183.8) scale(0.875 1)" text-anchor="middle">0</text>
<text transform="translate(260.8 152.7) scale(0.875 1)" text-anchor="middle">60</text>
<text x="73.1" y="40.2" text-anchor="middle" font-size="18" fill="#000" stroke="none">(d)</text>
</g>
<g font-family="Liberation Serif, Times New Roman, serif" font-style="italic" font-size="17.6" fill="#333">
<text x="76.7" y="159.1">N<tspan dy="2.3" dx="-0.3" font-size="13">y</tspan></text>
<text x="194" y="160.6">N<tspan dy="2.3" dx="-0.3" font-size="13">x</tspan></text>
</g>
</g>
</svg>
</body></html>
